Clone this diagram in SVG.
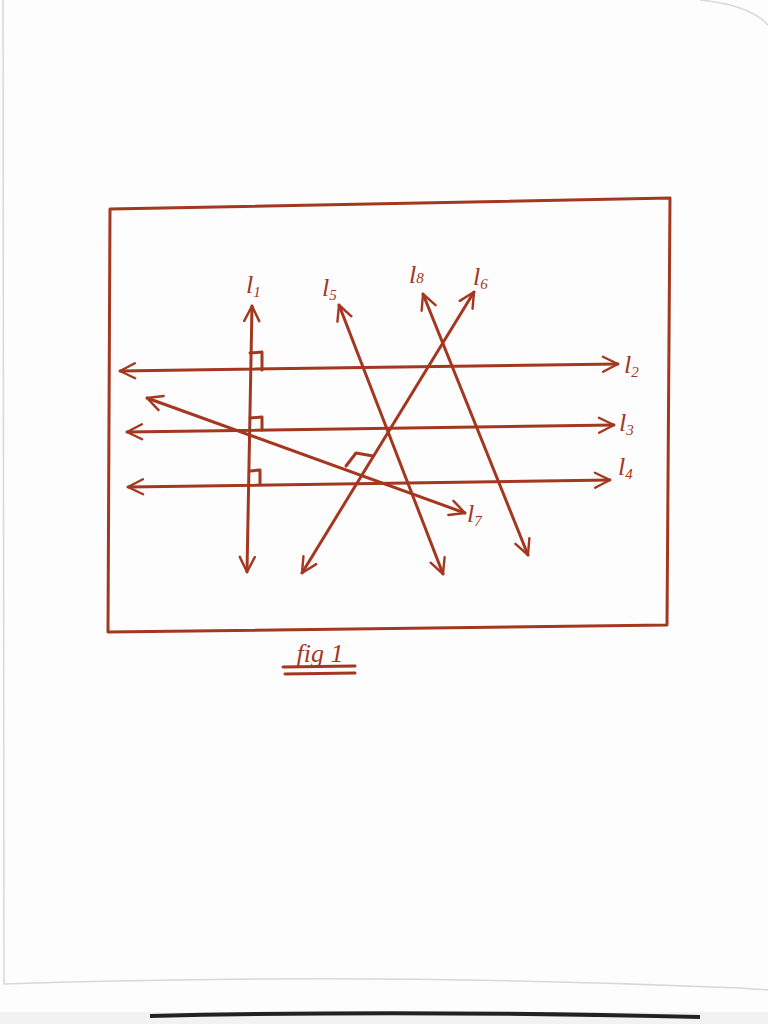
<svg xmlns="http://www.w3.org/2000/svg" width="768" height="1024" viewBox="0 0 768 1024">
<style>
.ln{stroke:#a3371f;stroke-width:3;fill:none;stroke-linecap:round;stroke-linejoin:round}
.ar{marker-start:url(#ah);marker-end:url(#ah)}
.lb{font-family:"Liberation Serif",serif;font-style:italic;font-size:26px;fill:#a3371f}
.sb{font-size:15px}
</style>
<defs>
<marker id="ah" viewBox="0 0 12 12" refX="11" refY="6" markerWidth="6" markerHeight="6" orient="auto-start-reverse" markerUnits="strokeWidth">
<path d="M1,1 L11,6 L1,11" fill="none" stroke="#a3371f" stroke-width="1.6" stroke-linecap="round" stroke-linejoin="round"/>
</marker>
</defs>
<rect width="768" height="1024" fill="#fdfdfd"/>
<path d="M3,0 L4,984 Q380,972 740,988 L768,990" fill="none" stroke="#d8d8d8" stroke-width="1.5"/>
<path d="M700,0 Q750,5 768,25" fill="none" stroke="#d8d8d8" stroke-width="1.5"/>
<rect x="0" y="1012" width="768" height="12" fill="#f2f2f2"/>
<path d="M150,1016 Q400,1010 700,1017" fill="none" stroke="#222" stroke-width="4"/>

<g id="frame">
<path class="ln" d="M110,209 L670,198 L667,625 L108,632 Z"/>
</g>

<g id="connectors">
<g id="l1">
<line class="ln ar" x1="252" y1="306" x2="247" y2="572"/>
<text class="lb" x="246" y="293">l<tspan class="sb" dy="4">1</tspan></text>
</g>
<g id="l2">
<line class="ln ar" x1="120" y1="371" x2="618" y2="364"/>
<text class="lb" x="624" y="373">l<tspan class="sb" dy="4">2</tspan></text>
</g>
<g id="l3">
<line class="ln ar" x1="127" y1="432" x2="614" y2="425"/>
<text class="lb" x="619" y="431">l<tspan class="sb" dy="4">3</tspan></text>
</g>
<g id="l4">
<line class="ln ar" x1="128" y1="487" x2="610" y2="480"/>
<text class="lb" x="618" y="475">l<tspan class="sb" dy="4">4</tspan></text>
</g>
<g id="l7">
<line class="ln ar" x1="147" y1="398" x2="465" y2="513"/>
<text class="lb" x="467" y="522">l<tspan class="sb" dy="4">7</tspan></text>
</g>
<g id="l5">
<line class="ln ar" x1="339" y1="305" x2="443" y2="574"/>
<text class="lb" x="322" y="296">l<tspan class="sb" dy="4">5</tspan></text>
</g>
<g id="l8">
<line class="ln ar" x1="423" y1="294" x2="528" y2="555"/>
<text class="lb" x="409" y="283">l<tspan class="sb" dy="0">8</tspan></text>
</g>
<g id="l6">
<line class="ln ar" x1="474" y1="292" x2="302" y2="573"/>
<text class="lb" x="473" y="285">l<tspan class="sb" dy="4">6</tspan></text>
</g>
</g>

<g id="right-angles">
<path class="ln" d="M250,353 L262,352 L262,370"/>
<path class="ln" d="M250,418 L262,417 L262,430"/>
<path class="ln" d="M250,471 L260,470 L260,484"/>
<path class="ln" d="M346,466 L356,453 L373,456"/>
</g>

<g id="caption">
<text class="lb" x="320" y="662" text-anchor="middle" font-size="24">fig 1</text>
<line class="ln" x1="283" y1="667" x2="355" y2="666"/>
<line class="ln" x1="285" y1="674" x2="355" y2="673"/>
</g>
</svg>
